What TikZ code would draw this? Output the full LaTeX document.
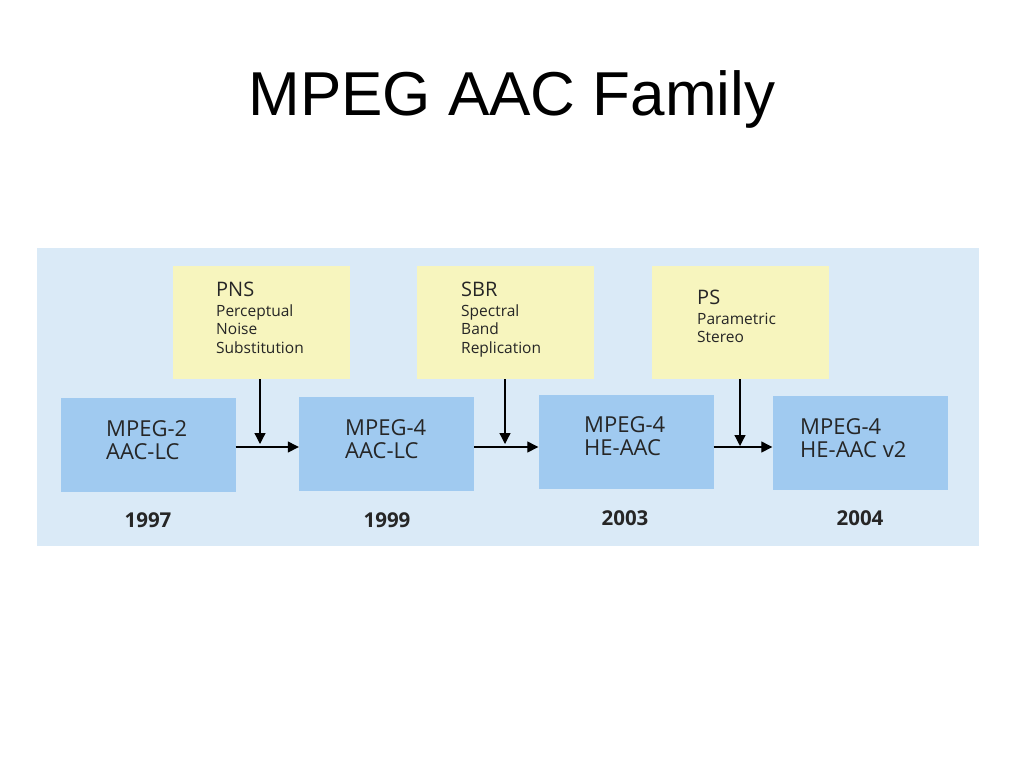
\documentclass[tikz,border=0pt]{standalone}
\usepackage{fontspec}
\setmainfont{Liberation Sans}
\newfontfamily\boxfont{Open Sans}
\usetikzlibrary{arrows.meta}
\definecolor{panel}{RGB}{218,234,247}
\definecolor{ybox}{RGB}{247,245,190}
\definecolor{bbox}{RGB}{160,202,240}
\begin{document}
\begin{tikzpicture}[x=1pt,y=-1pt,
  yel/.style={fill=ybox,minimum width=177pt,minimum height=113pt,inner sep=0pt},
  blu/.style={fill=bbox,minimum width=175pt,minimum height=94pt,inner sep=0pt},
  txt/.style={align=left,anchor=north west,inner sep=0pt,font=\boxfont\fontsize{22}{23.5}\selectfont,text=black!85},
  ytxt/.style={align=left,anchor=north west,inner sep=0pt,font=\boxfont\fontsize{15.5}{18.5}\selectfont,text=black!85},
  yr/.style={font=\boxfont\bfseries\fontsize{20.5}{22}\selectfont,text=black!85},
  arr/.style={-{Triangle[length=11pt,width=11pt]},line width=1.3pt}]
\useasboundingbox (0,0) rectangle (1024,768);
\node[font=\fontsize{62}{68}\selectfont] (title) at (512,99) {MPEG AAC Family};
\fill[panel] (37,248) rectangle (979,546);
\node[yel] (y1) at (261,322.5) {};
\node[yel] (y2) at (505,322.5) {};
\node[yel] (y3) at (740.5,322.5) {};
\node[blu] (b1) at (148,445) {};
\node[blu] (b2) at (386.5,443.5) {};
\node[blu] (b3) at (626,442) {};
\node[blu] (b4) at (860,443) {};
\node[txt] (t1) at (106,420) {MPEG-2\\AAC-LC};
\node[txt] (t2) at (345,419) {MPEG-4\\AAC-LC};
\node[txt] (t3) at (584,416) {MPEG-4\\HE-AAC};
\node[txt] (t4) at (800,418) {MPEG-4\\HE-AAC v2};
\node[ytxt] (p1) at (216,282) {{\fontsize{20}{20}\selectfont PNS}\\[1pt]Perceptual\\Noise\\Substitution};
\node[ytxt] (p2) at (461,282) {{\fontsize{20}{20}\selectfont SBR}\\[1pt]Spectral\\Band\\Replication};
\node[ytxt] (p3) at (697,290) {{\fontsize{20}{20}\selectfont PS}\\[1pt]Parametric\\Stereo};
\node[yr] (r1) at (148,520) {1997};
\node[yr] (r2) at (387,520) {1999};
\node[yr] (r3) at (625,518) {2003};
\node[yr] (r4) at (860,518) {2004};
\draw[arr] (b1.east |- 0,447) -- (b2.west |- 0,447);
\draw[arr] (b2.east |- 0,447) -- (b3.west |- 0,447);
\draw[arr] (b3.east |- 0,447) -- (b4.west |- 0,447);
\draw[arr] (260,379) -- (260,444);
\draw[arr] (505,379) -- (505,444);
\draw[arr] (740,379) -- (740,446);
\end{tikzpicture}
\end{document}
